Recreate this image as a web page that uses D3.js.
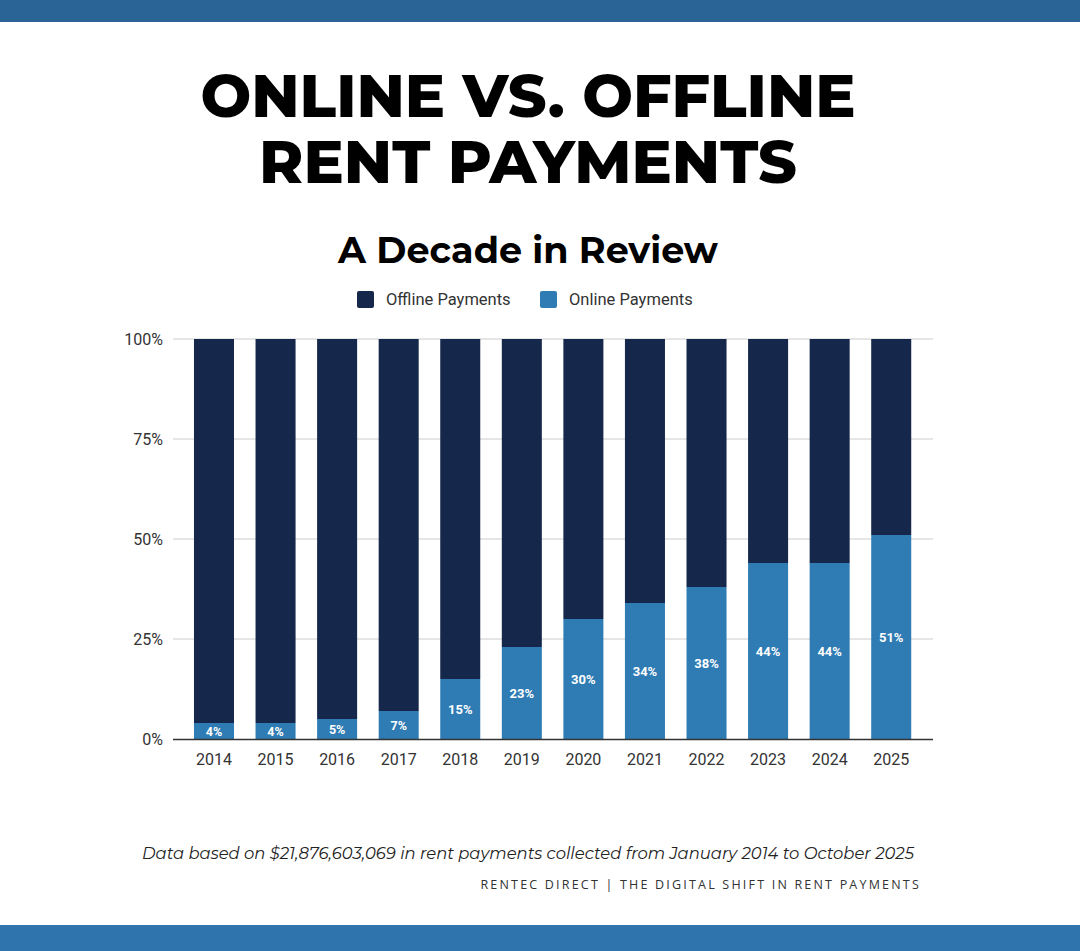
<!DOCTYPE html>
<html><head><meta charset="utf-8">
<script src="https://cdn.jsdelivr.net/npm/d3@7"></script>
<style>body{margin:0;background:#fff}</style></head>
<body><svg id="c" width="1080" height="951"></svg>
<script>
const years = ["2014","2015","2016","2017","2018","2019","2020","2021","2022","2023","2024","2025"];
const online = [4,4,5,7,15,23,30,34,38,44,44,51];
const yTicks = [0,25,50,75,100];
const seriesNames = ["Offline Payments","Online Payments"];
const colors = ["#15274a","#2f7bb4"];

const svg = d3.select("#c");
svg.append("rect").attr("x",0).attr("y",0).attr("width",1080).attr("height",22).attr("fill","#2a6497");
svg.append("rect").attr("x",0).attr("y",925).attr("width",1080).attr("height",26).attr("fill","#2f74ad");

const tf = "Montserrat, Inter, 'Open Sans', sans-serif";
svg.append("text").attr("x",528).attr("y",117).attr("text-anchor","middle").attr("font-family",tf).attr("font-weight",800).attr("font-size",60).attr("fill","#000").text("ONLINE VS. OFFLINE");
svg.append("text").attr("x",528).attr("y",183).attr("text-anchor","middle").attr("font-family",tf).attr("font-weight",800).attr("font-size",60).attr("fill","#000").text("RENT PAYMENTS");
svg.append("text").attr("x",528).attr("y",263).attr("text-anchor","middle").attr("font-family",tf).attr("font-weight",700).attr("font-size",36.5).attr("fill","#000").text("A Decade in Review");

const lg = [[357,"Offline Payments"],[540,"Online Payments"]];
lg.forEach((d,i)=>{
  svg.append("rect").attr("x",d[0]).attr("y",291).attr("width",17).attr("height",17).attr("rx",2).attr("fill",colors[i]);
  svg.append("text").attr("x",d[0]+29).attr("y",305).attr("font-family","Roboto, sans-serif").attr("font-size",16.5).attr("fill","#333").text(seriesNames[i]);
});

const x = d3.scaleBand().domain(years).range([183.2,922]).paddingInner(0.35).paddingOuter(0.175);
const y = d3.scaleLinear().domain([0,100]).range([739,339]);

const g = svg.append("g");
yTicks.forEach(t=>{
  if(t>0) g.append("line").attr("x1",173).attr("x2",933).attr("y1",y(t)).attr("y2",y(t)).attr("stroke","#ccc");
  g.append("text").attr("x",163).attr("y",y(t)+6).attr("text-anchor","end").attr("font-family","Roboto, sans-serif").attr("font-size",16).attr("fill","#333").text(t+"%");
});
years.forEach((yr,i)=>{
  g.append("rect").attr("x",x(yr)).attr("width",x.bandwidth()).attr("y",y(100)).attr("height",y(online[i])-y(100)).attr("fill",colors[0]);
  g.append("rect").attr("x",x(yr)).attr("width",x.bandwidth()).attr("y",y(online[i])).attr("height",y(0)-y(online[i])).attr("fill",colors[1]);
  const ly = (y(online[i])+y(0))/2+5;
  g.append("text").attr("x",x(yr)+x.bandwidth()/2).attr("y",ly).attr("text-anchor","middle").attr("font-family","Roboto, sans-serif").attr("font-weight",700).attr("font-size",online[i]<10?12.5:13).attr("fill","#fff").text(online[i]+"%");
  g.append("text").attr("x",x(yr)+x.bandwidth()/2).attr("y",765).attr("text-anchor","middle").attr("font-family","Roboto, sans-serif").attr("font-size",16).attr("fill","#333").text(yr);
});
g.append("line").attr("x1",173).attr("x2",933).attr("y1",739.5).attr("y2",739.5).attr("stroke","#333").attr("stroke-width",1.5);

svg.append("text").attr("x",528).attr("y",859).attr("text-anchor","middle").attr("font-family","Montserrat, 'Open Sans', sans-serif").attr("font-style","italic").attr("font-size",16.4).attr("fill","#222").text("Data based on $21,876,603,069 in rent payments collected from January 2014 to October 2025");
svg.append("text").attr("x",921).attr("y",889).attr("text-anchor","end").attr("font-family","'Open Sans', sans-serif").attr("font-size",12.5).attr("letter-spacing",2.2).attr("fill","#333").text("RENTEC DIRECT | THE DIGITAL SHIFT IN RENT PAYMENTS");
</script></body></html>
